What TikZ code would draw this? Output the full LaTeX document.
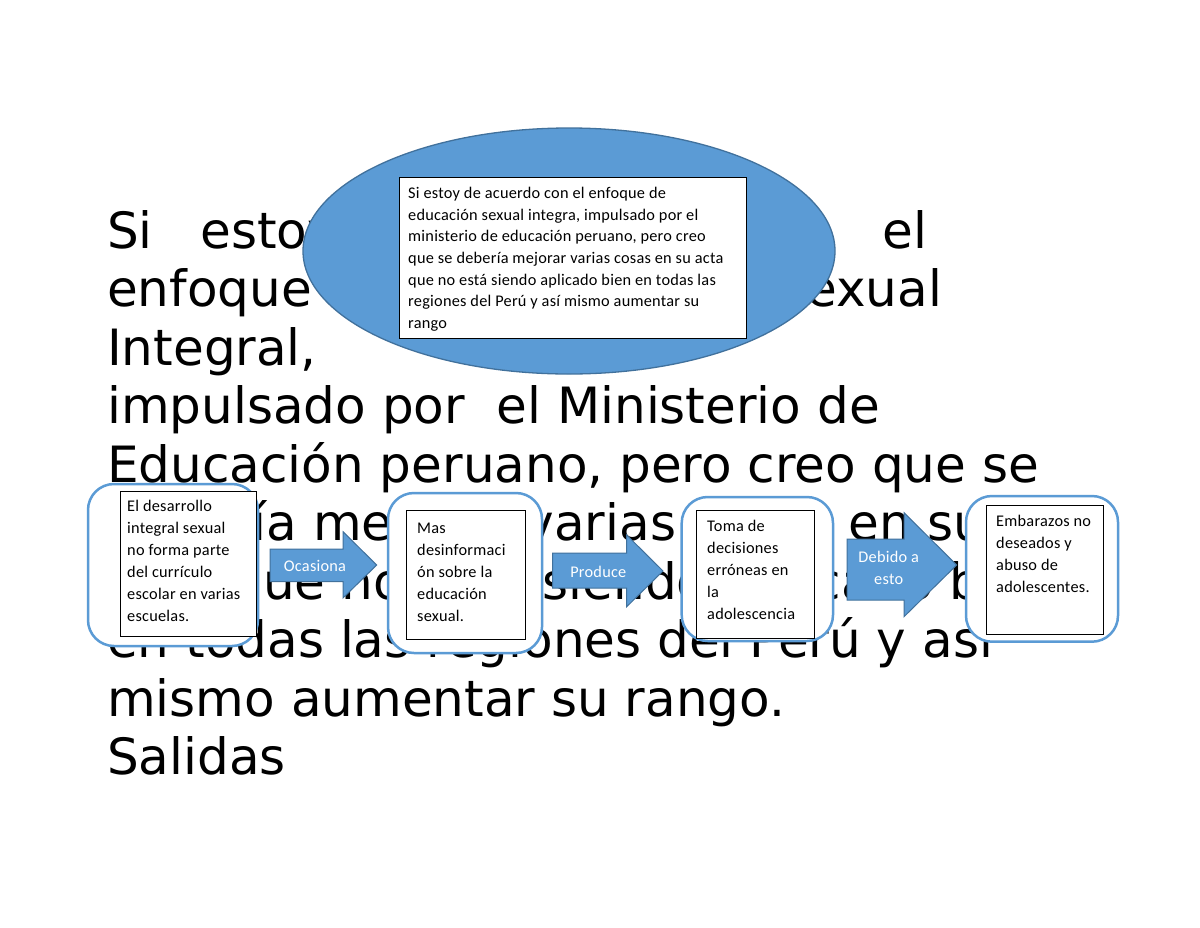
\documentclass[tikz,border=0pt]{standalone}
\usepackage{fontspec}
\setmainfont{DejaVu Sans}
\newfontfamily\calfont{Carlito}[LetterSpace=1.5]
\usetikzlibrary{shapes.geometric}
\definecolor{obl}{HTML}{5B9BD5}
\definecolor{odk}{HTML}{41719C}
\tikzset{
 bigline/.style={anchor=base west, inner sep=0pt, font=\fontsize{50}{58.5}\selectfont},
 smalltxt/.style={anchor=base west, inner sep=0pt, align=left, font=\calfont\fontsize{16.3}{22}\selectfont},
 outerbox/.style={draw=obl, line width=2.5pt, fill=white, rounded corners=26pt, inner sep=0pt},
 innerbox/.style={draw=black, line width=0.9pt, fill=white, inner sep=0pt},
 blockarrow/.style={fill=obl, draw=odk, line width=1pt, line join=miter},
 arrowlabel/.style={text=white, inner sep=0pt, align=center, font=\calfont\fontsize{16.3}{21.7}\selectfont},
}
\begin{document}
\begin{tikzpicture}[x=1pt,y=-1pt]
\useasboundingbox (0,0) rectangle (1200,927);
\fill[white] (0,0) rectangle (1200,927);
% background paragraph
\node[bigline] (l1) at (107,248) {\hbox to 819.7pt{Si\hfill estoy\hfill de\hfill acuerdo\hfill con\hfill el}};
\node[bigline] (l2) at (107,306.5) {\hbox to 834.7pt{enfoque\hfill de\hfill Educación\hfill Sexual}};
\node[bigline] (l3) at (107,365) {Integral,};
\node[bigline] (l4) at (107,423.5) {impulsado por\ \ el Ministerio de};
\node[bigline] (l5) at (107,482) {Educación peruano, pero creo que se};
\node[bigline] (l6) at (107,540.5) {debería mejorar varias cosas en su};
\node[bigline] (l7) at (107,599) {acta que no está siendo aplicado bien};
\node[bigline] (l8) at (107,657.5) {en todas las regiones del Perú y así};
\node[bigline] (l9) at (107,716) {mismo aumentar su rango.};
\node[bigline] (l10) at (107,774.5) {Salidas};
% ellipse (base anchor of a multi-line node = its last line)
\node[ellipse, draw=odk, fill=obl, line width=1.3pt, minimum width=532pt, minimum height=246pt, inner sep=0pt] (ell) at (569,251) {};
\node[innerbox, minimum width=347pt, minimum height=161pt] (erect) at (572.5,257.5) {};
\node[smalltxt, font=\calfont\fontsize{16.3}{21.7}\selectfont] (etxt) at (408,328.5) {Si estoy de acuerdo con el enfoque de\\educación sexual integra, impulsado por el\\ministerio de educación peruano, pero creo\\que se debería mejorar varias cosas en su acta\\que no está siendo aplicado bien en todas las\\regiones del Perú y así mismo aumentar su\\rango};
% boxes
\node[outerbox, minimum width=170pt, minimum height=162pt] (o1) at (173,565) {};
\node[innerbox, minimum width=136pt, minimum height=145.7pt] (i1) at (188.7,563.85) {};
\node[smalltxt] (t1) at (127,621.7) {El desarrollo\\integral sexual\\no forma parte\\del currículo\\escolar en varias\\escuelas.};
\node[outerbox, minimum width=154pt, minimum height=160pt] (o2) at (465,573) {};
\node[innerbox, minimum width=119pt, minimum height=128.3pt] (i2) at (465.5,574.85) {};
\node[smalltxt] (t2) at (417,621) {Mas\\desinformaci\\ón sobre la\\educación\\sexual.};
\node[outerbox, minimum width=151.3pt, minimum height=144pt] (o3) at (757.35,569) {};
\node[innerbox, minimum width=117.3pt, minimum height=127.3pt] (i3) at (755.35,574.35) {};
\node[smalltxt] (t3) at (707,619.7) {Toma de\\decisiones\\erróneas en\\la\\adolescencia};
\node[outerbox, minimum width=152pt, minimum height=145.7pt] (o4) at (1042,568.85) {};
\node[innerbox, minimum width=117pt, minimum height=129pt] (i4) at (1044.5,569.5) {};
\node[smalltxt] (t4) at (996,592.7) {Embarazos no\\deseados y\\abuso de\\adolescentes.};
% block arrows
\draw[blockarrow] (270,549) -- (343,549) -- (343,531.7) -- (376.7,565) -- (343,598) -- (343,581.7) -- (270,581.7) -- cycle;
\node[arrowlabel] (a1) at (315,566) {Ocasiona};
\draw[blockarrow] (552.7,553) -- (626.7,553) -- (626.7,535) -- (663,571) -- (626.7,606.7) -- (626.7,588) -- (552.7,588) -- cycle;
\node[arrowlabel] (a2) at (598.3,571.5) {Produce};
\draw[blockarrow] (847,539) -- (904,539) -- (904,512.7) -- (956.7,565) -- (904,616.7) -- (904,600) -- (847,600) -- cycle;
\node[arrowlabel] (a3) at (888.7,568) {Debido a\\esto};
\end{tikzpicture}
\end{document}
